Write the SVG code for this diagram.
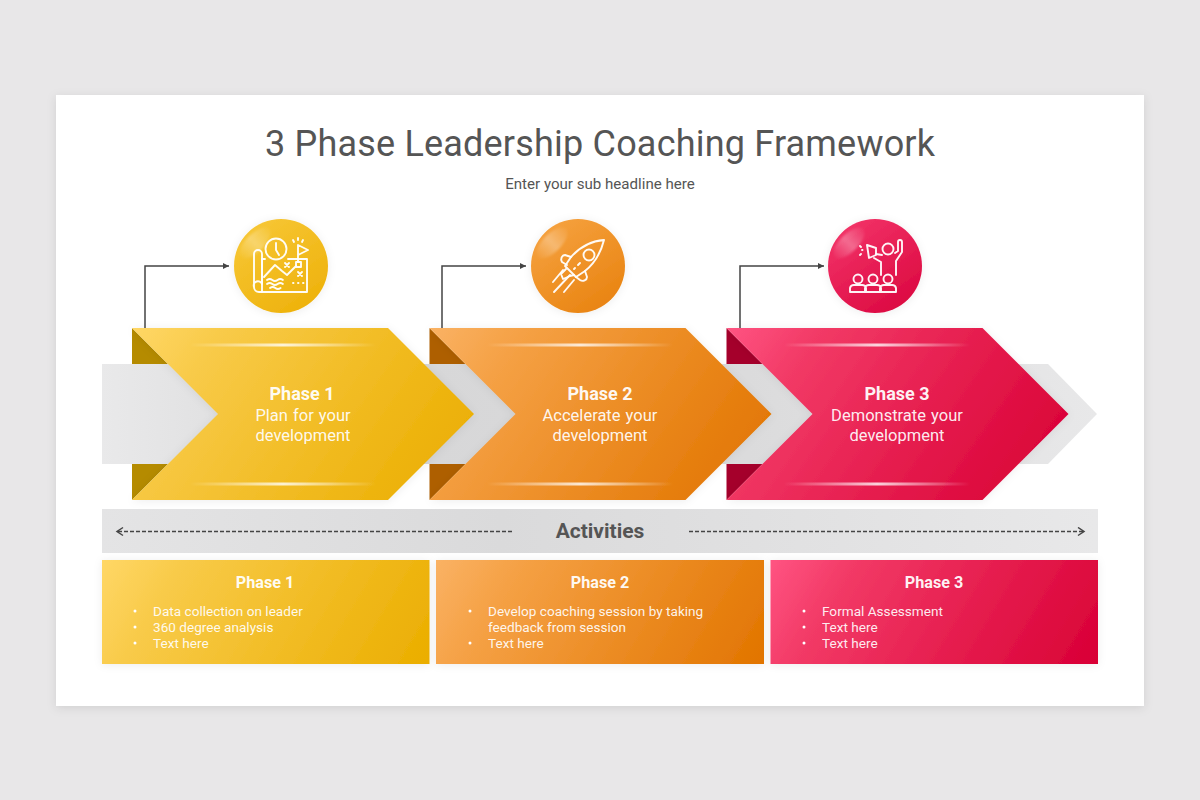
<svg xmlns="http://www.w3.org/2000/svg" width="1200" height="800" viewBox="0 0 1200 800">
<style>
text{font-family:Roboto,"Liberation Sans",sans-serif}
.t{font-size:16.5px;fill:#fff;text-anchor:middle;fill-opacity:.93;word-spacing:1px}
.h{font-size:18px;font-weight:700;fill:#fff;text-anchor:middle;fill-opacity:.95}
.p{font-size:16.2px;font-weight:700;fill:#fff;text-anchor:middle;fill-opacity:.95}
.l{font-size:13.6px;fill:#fff;fill-opacity:.92}
.c{fill:none;stroke:#444;stroke-width:1.5}
.d{fill:none;stroke:#444;stroke-width:1.7}
.i{fill:none;stroke:#fff;stroke-width:1.9;stroke-linecap:round;stroke-linejoin:round;stroke-opacity:.95}
</style>
<defs>
<linearGradient id="sy"><stop offset="0" stop-color="#FFD766"/><stop offset=".22" stop-color="#F8CA48"/><stop offset="1" stop-color="#EBAE00"/></linearGradient>
<linearGradient id="so"><stop offset="0" stop-color="#FAB264"/><stop offset=".22" stop-color="#F5A145"/><stop offset="1" stop-color="#E27500"/></linearGradient>
<linearGradient id="sr"><stop offset="0" stop-color="#FF5482"/><stop offset=".22" stop-color="#F23A66"/><stop offset="1" stop-color="#D90036"/></linearGradient>
<linearGradient id="c1" href="#sy" gradientUnits="userSpaceOnUse" x1="132" y1="328" x2="420" y2="530"/>
<linearGradient id="c2" href="#so" gradientUnits="userSpaceOnUse" x1="429.500" y1="328" x2="717.500" y2="530"/>
<linearGradient id="c3" href="#sr" gradientUnits="userSpaceOnUse" x1="726.500" y1="328" x2="1014.500" y2="530"/>
<linearGradient id="b1" href="#sy" gradientUnits="userSpaceOnUse" x1="102" y1="560" x2="385" y2="730"/>
<linearGradient id="b2" href="#so" gradientUnits="userSpaceOnUse" x1="436" y1="560" x2="719" y2="730"/>
<linearGradient id="b3" href="#sr" gradientUnits="userSpaceOnUse" x1="770.500" y1="560" x2="1053.500" y2="730"/>
<linearGradient id="ey" x1="0" y1="0" x2=".7" y2="1"><stop offset="0" stop-color="#F8C93A"/><stop offset="1" stop-color="#EEB20C"/></linearGradient>
<linearGradient id="eo" x1="0" y1="0" x2=".7" y2="1"><stop offset="0" stop-color="#F7A544"/><stop offset="1" stop-color="#E98412"/></linearGradient>
<linearGradient id="er" x1="0" y1="0" x2=".7" y2="1"><stop offset="0" stop-color="#F5386C"/><stop offset="1" stop-color="#DC0A42"/></linearGradient>
<linearGradient id="grey" x1="102" y1="0" x2="1097" y2="0" gradientUnits="userSpaceOnUse"><stop offset="0" stop-color="#E9E9EA"/><stop offset=".1" stop-color="#E2E2E3"/><stop offset=".33" stop-color="#D7D7D8"/><stop offset=".65" stop-color="#DBDBDC"/><stop offset="1" stop-color="#E8E8E9"/></linearGradient>
<linearGradient id="bar" x1="0" y1="0" x2="1" y2="0"><stop offset="0" stop-color="#E4E4E5"/><stop offset=".4" stop-color="#DADADB"/><stop offset="1" stop-color="#E8E8E9"/></linearGradient>
<linearGradient id="glow" x1="0" y1="0" x2="1" y2="0"><stop offset="0" stop-color="#fff" stop-opacity="0"/><stop offset=".5" stop-color="#fff" stop-opacity=".8"/><stop offset="1" stop-color="#fff" stop-opacity="0"/></linearGradient>
<linearGradient id="shine" x1="0" y1="0" x2="0" y2="1"><stop offset="0" stop-color="#fff" stop-opacity=".04"/><stop offset=".5" stop-color="#fff" stop-opacity=".3"/><stop offset="1" stop-color="#fff" stop-opacity=".02"/></linearGradient>
<filter id="card" x="-5%" y="-5%" width="110%" height="110%"><feDropShadow dx="0" dy="2" stdDeviation="5" flood-color="#000" flood-opacity=".1"/></filter>
<filter id="sh" x="-10%" y="-10%" width="120%" height="120%"><feDropShadow dx="0" dy="1" stdDeviation="4" flood-color="#000" flood-opacity=".07"/></filter>
<filter id="blur"><feGaussianBlur stdDeviation="1.200"/></filter>
<marker id="ah" markerWidth="8" markerHeight="8" refX="6" refY="3" orient="auto" markerUnits="userSpaceOnUse"><path d="M0,0L6,3L0,6Z" fill="#444"/></marker>
<marker id="oa" markerWidth="10" markerHeight="12" refX="7" refY="5" orient="auto" markerUnits="userSpaceOnUse"><path d="M1,1L7,5L1,9" fill="none" stroke="#444" stroke-width="1.500"/></marker>
<ellipse id="gl" cx="0" cy="0" rx="9" ry="20" transform="rotate(45)" fill="url(#shine)" filter="url(#blur)"/>
</defs>

<rect width="1200" height="800" fill="#E8E7E8"/>
<rect id="card-bg" x="56" y="95" width="1088" height="611" fill="#fff" filter="url(#card)"/>

<text x="600" y="156" font-size="36" fill="#555" text-anchor="middle" textLength="670" lengthAdjust="spacing">3 Phase Leadership Coaching Framework</text>
<text x="600" y="189" font-size="15.100" fill="#555" text-anchor="middle">Enter your sub headline here</text>

<path id="band" d="M102,364H1048L1097,414L1048,464H102Z" fill="url(#grey)"/>

<g id="connectors">
<path class="c" d="M145,328V266H229" marker-end="url(#ah)"/>
<path class="c" d="M442,328V266H526" marker-end="url(#ah)"/>
<path class="c" d="M740,328V266H824" marker-end="url(#ah)"/>
</g>

<g id="phase1">
<path d="M132,328L168,364H132ZM132,500L168,464H132Z" fill="#B58B00"/>
<path d="M132,328H388L474,414L388,500H132L218,414Z" fill="url(#c1)" filter="url(#sh)"/>
<rect x="190" y="343.500" width="186" height="3" fill="url(#glow)"/>
<rect x="190" y="482.500" width="186" height="3" fill="url(#glow)"/>
<text x="302" y="400" class="h">Phase 1</text>
<text x="303" y="421" class="t">Plan for your</text>
<text x="303" y="441" class="t">development</text>
</g>
<g id="phase2">
<path d="M429.500,328L465.500,364H429.500ZM429.500,500L465.500,464H429.500Z" fill="#AE5F00"/>
<path d="M429.500,328H685.500L771.500,414L685.500,500H429.500L515.500,414Z" fill="url(#c2)" filter="url(#sh)"/>
<rect x="487" y="343.500" width="186" height="3" fill="url(#glow)"/>
<rect x="487" y="482.500" width="186" height="3" fill="url(#glow)"/>
<text x="600" y="400" class="h">Phase 2</text>
<text x="600" y="421" class="t">Accelerate your</text>
<text x="600" y="441" class="t">development</text>
</g>
<g id="phase3">
<path d="M726.500,328L762.500,364H726.500ZM726.500,500L762.500,464H726.500Z" fill="#A5002B"/>
<path d="M726.500,328H982.500L1068.500,414L982.500,500H726.500L812.500,414Z" fill="url(#c3)" filter="url(#sh)"/>
<rect x="784" y="343.500" width="186" height="3" fill="url(#glow)"/>
<rect x="784" y="482.500" width="186" height="3" fill="url(#glow)"/>
<text x="897" y="400" class="h">Phase 3</text>
<text x="897" y="421" class="t">Demonstrate your</text>
<text x="897" y="441" class="t">development</text>
</g>

<g id="icon1">
<circle cx="281" cy="266" r="47" fill="url(#ey)" filter="url(#sh)"/>
<use href="#gl" transform="translate(255,243)"/>
<g class="i">
<path d="M265,259H262V292H307V259H288M298,259H296"/>
<path d="M254,287V254a4,4 0 0 1 8,0V284a4,4 0 0 0 -8,3a5,5 0 0 0 5,5H262"/>
<circle cx="276" cy="249" r="10.500"/><path d="M276,243V250L279,255"/>
<path d="M264,277L275,265L282,271L287,275L296,266"/>
<path d="M298,262V245L308,250L298,255"/>
<rect x="296" y="262" width="5" height="5"/>
<path d="M267,280q2.700,-2 5.300,0t5.300,0t5.300,0M267,284q2.700,-2 5.300,0t5.300,0t5.300,0M270,288q2.700,-2 5.300,0t5.300,0"/>
<path d="M285,263l4,4m0,-4l-4,4M298,272l4,4m0,-4l-4,4M293,283h.5M298,283h.5M303,283h.5"/>
<path d="M293,240l1,2M298,238v2M303,240l-1,2"/>
</g>
</g>
<g id="icon2">
<circle cx="578" cy="266" r="47" fill="url(#eo)" filter="url(#sh)"/>
<use href="#gl" transform="translate(552,243)"/>
<g class="i">
<path d="M604,240C591,241 579,248 571,257L565,266L576,277L585,271C595,263 601,252 604,240Z"/>
<circle cx="589" cy="255" r="5.500"/>
<path d="M571,257L565,255C562,255 560,259 562,262L567,265M585,271L587,277C587,280 583,282 580,280L576,277"/>
<path d="M566,269L561,274L563,279L570,276L574,275M578,265l2,-2M574,269l1,-1"/>
<path d="M563,270L553,282M570,275L554,292M574,280L564,292"/>
</g>
</g>
<g id="icon3">
<circle cx="875" cy="266" r="47" fill="url(#er)" filter="url(#sh)"/>
<use href="#gl" transform="translate(849,243)"/>
<g class="i">
<circle cx="888" cy="249" r="5.500"/>
<path d="M895,253L898,251V242a1.500,1.500 0 0 1 4,0V252L896,261V275M882,255L876,254M874,258L881,262V275"/>
<path d="M867,245L876,248V255L869,258Z M862,250h.5M860,246l1,1M860,255l1,-1"/>
<circle cx="858" cy="279" r="4.500"/><circle cx="873" cy="279" r="4.500"/><circle cx="888" cy="279" r="4.500"/>
<path d="M850,292V288a4,4 0 0 1 4,-3H862a4,4 0 0 1 4,3V292H850ZM865,292V288a4,4 0 0 1 4,-3H877a4,4 0 0 1 4,3V292ZM880,292V288a4,4 0 0 1 4,-3H892a4,4 0 0 1 4,3V292Z"/>
</g>
</g>

<g id="activities">
<rect x="102" y="509" width="996" height="44" fill="url(#bar)"/>
<text x="600" y="538" font-size="21" font-weight="700" fill="#555" text-anchor="middle">Activities</text>
<path class="d" d="M512,531.500H117" stroke-dasharray="4 2" marker-end="url(#oa)"/>
<path class="d" d="M689,531.500H1084" stroke-dasharray="4 2" marker-end="url(#oa)"/>
</g>

<g id="box1">
<rect x="102" y="560" width="327.500" height="104" fill="url(#b1)" filter="url(#sh)"/>
<text x="265" y="588" class="p">Phase 1</text>
<circle cx="135" cy="611" r="1.500" fill="#fff"/><text x="153" y="615.500" class="l">Data collection on leader</text>
<circle cx="135" cy="627" r="1.500" fill="#fff"/><text x="153" y="632" class="l">360 degree analysis</text>
<circle cx="135" cy="643" r="1.500" fill="#fff"/><text x="153" y="648" class="l">Text here</text>
</g>
<g id="box2">
<rect x="436" y="560" width="328" height="104" fill="url(#b2)" filter="url(#sh)"/>
<text x="600" y="588" class="p">Phase 2</text>
<circle cx="470" cy="611" r="1.500" fill="#fff"/><text x="488" y="615.500" class="l">Develop coaching session by taking</text>
<text x="488" y="632" class="l">feedback from session</text>
<circle cx="470" cy="643" r="1.500" fill="#fff"/><text x="488" y="648" class="l">Text here</text>
</g>
<g id="box3">
<rect x="770.500" y="560" width="327.500" height="104" fill="url(#b3)" filter="url(#sh)"/>
<text x="934" y="588" class="p">Phase 3</text>
<circle cx="804" cy="611" r="1.500" fill="#fff"/><text x="822" y="615.500" class="l">Formal Assessment</text>
<circle cx="804" cy="627" r="1.500" fill="#fff"/><text x="822" y="632" class="l">Text here</text>
<circle cx="804" cy="643" r="1.500" fill="#fff"/><text x="822" y="648" class="l">Text here</text>
</g>
</svg>
